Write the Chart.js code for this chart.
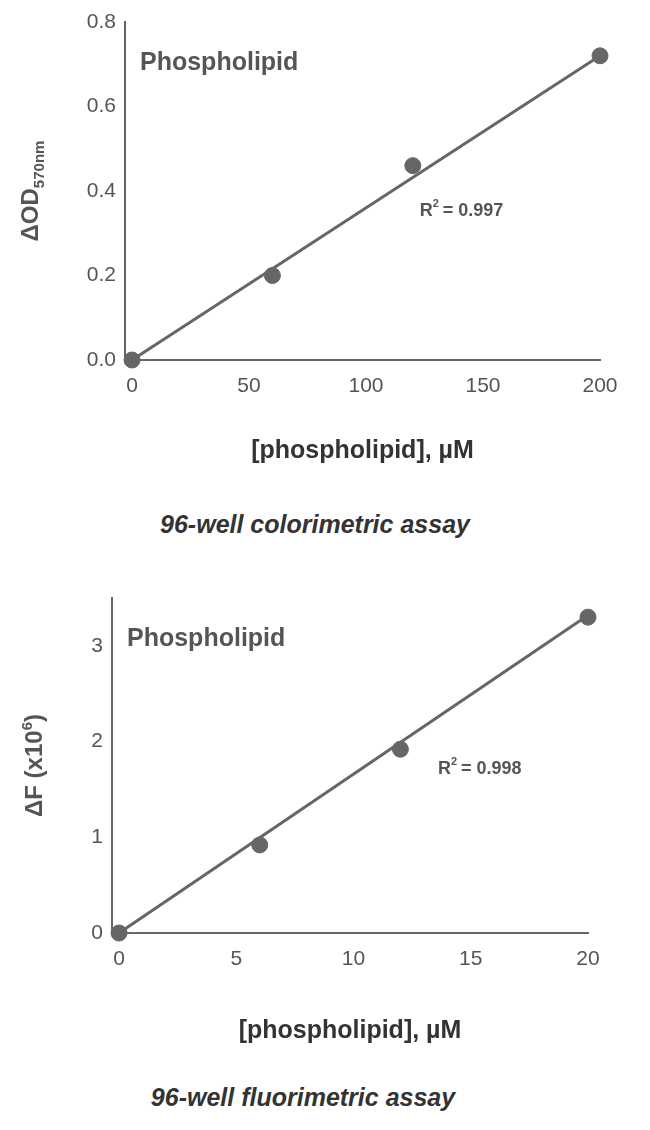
<!DOCTYPE html>
<html><head><meta charset="utf-8">
<script src="https://cdn.jsdelivr.net/npm/chart.js@4/dist/chart.umd.min.js"></script>
<style>
body{margin:0;background:#fff;width:650px;height:1130px;position:relative;font-family:"Liberation Sans",Arial,sans-serif}
.c{position:absolute;left:0;width:650px;height:470px}
.cap{position:absolute;left:0;width:650px;text-align:center;font-style:italic;font-weight:bold;font-size:25px;color:#333}
</style></head><body>
<div class="c" style="top:0"><canvas id="c1" width="650" height="470"></canvas></div>
<div class="cap" style="top:510px;left:-10px">96-well colorimetric assay</div>
<div class="c" style="top:580px"><canvas id="c2" width="650" height="470"></canvas></div>
<div class="cap" style="top:1083px;left:-22px">96-well fluorimetric assay</div>
<script>
const conc1=[0,60,120,200];
const od1=[0,0.2,0.46,0.72];
const fit1X=[0,200];
const fit1Y=[0,0.72];
const xTicks1=[0,50,100,150,200];
const yTicks1=[0,0.2,0.4,0.6,0.8];
const conc2=[0,6,12,20];
const df2=[0,0.92,1.92,3.3];
const fit2X=[0,20];
const fit2Y=[0,3.32];
const xTicks2=[0,5,10,15,20];
const yTicks2=[0,1,2,3];

const gray='#555';
function mk(id,xs,ys,fx,fy,o){
  const ann={id:'ann',afterDraw(ch){
    const c=ch.ctx,a=ch.chartArea;c.save();c.fillStyle=gray;
    c.font='bold 25px "Liberation Sans",Arial';c.fillText('Phospholipid',a.left+15,a.top+48);
    c.font='bold 18px "Liberation Sans",Arial';
    const rx=ch.scales.x.getPixelForValue(o.rX),ry=ch.scales.y.getPixelForValue(o.rY);
    c.fillText('R',rx,ry);c.font='bold 11px "Liberation Sans",Arial';c.fillText('2',rx+13,ry-9);
    c.font='bold 18px "Liberation Sans",Arial';c.fillText(' = '+o.r2,rx+18,ry);
    c.translate(o.tx,(a.top+a.bottom)/2);c.rotate(-Math.PI/2);c.textAlign='left';
    c.font='bold 24px "Liberation Sans",Arial';
    const w1=c.measureText(o.t1).width;c.font='bold 15px "Liberation Sans",Arial';
    const w2=c.measureText(o.t2).width;c.font='bold 24px "Liberation Sans",Arial';
    const w3=o.t3?c.measureText(o.t3).width:0;
    let x=-(w1+w2+w3)/2;c.fillText(o.t1,x,0);x+=w1;
    c.font='bold 15px "Liberation Sans",Arial';c.fillText(o.t2,x,o.sup?-10:6);x+=w2;
    if(o.t3){c.font='bold 24px "Liberation Sans",Arial';c.fillText(o.t3,x,0);}
    c.restore();}};
  new Chart(document.getElementById(id),{type:'scatter',
    data:{datasets:[
      {data:fx.map((v,i)=>({x:v,y:fy[i]})),showLine:true,borderColor:'#666',borderWidth:3,pointRadius:0,clip:false},
      {data:xs.map((v,i)=>({x:v,y:ys[i]})),pointRadius:8,backgroundColor:'#666',borderColor:'#666',clip:false}]},
    options:{responsive:false,animation:false,plugins:{legend:{display:false},tooltip:{enabled:false}},
      layout:{padding:{top:o.pt,right:o.pr,left:0,bottom:0}},
      scales:{
        x:{min:o.xmin,max:o.xmax,ticks:{color:gray,font:{size:21},padding:8},
          afterBuildTicks(s){s.ticks=o.xt.map(v=>({value:v}));},
          grid:{display:false,drawTicks:true,tickLength:6,tickColor:'#666'},border:{color:'#666',width:2},
          title:{display:true,text:'[phospholipid], µM',color:'#333',font:{size:25,weight:'bold'},padding:{top:6}},
          afterFit(s){s.height=o.xh;}},
        y:{min:0,max:o.ymax,ticks:{color:gray,font:{size:21},callback:o.fmt},
          afterBuildTicks(s){s.ticks=o.yt.map(v=>({value:v}));},
          grid:{display:false,drawTicks:true,tickLength:6,tickColor:'#666'},border:{color:'#666',width:2},
          afterFit(s){s.width=o.yw;}}}},
    plugins:[ann]});
}
mk('c1',conc1,od1,fit1X,fit1Y,{pt:22,pr:50,xh:110,yw:125,xmin:-3,xmax:200,xt:xTicks1,yt:yTicks1,ymax:0.8,
  fmt:v=>v.toFixed(1),rX:123,rY:0.34,r2:'0.997',tx:38,t1:'ΔOD',t2:'570nm'});
mk('c2',conc2,df2,fit2X,fit2Y,{pt:18,pr:62,xh:117,yw:112,xmin:-0.3,xmax:20,xt:xTicks2,yt:yTicks2,ymax:3.5,
  fmt:v=>v,rX:13.6,rY:1.66,r2:'0.998',tx:42,t1:'ΔF (x10',t2:'6',t3:')',sup:true});
</script></body></html>
